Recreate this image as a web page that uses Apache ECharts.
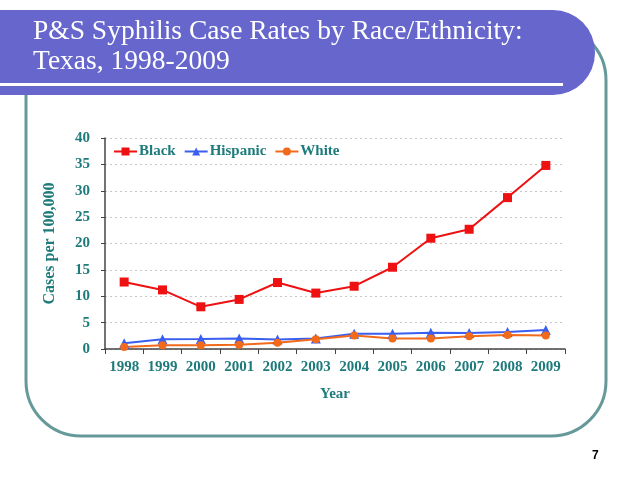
<!DOCTYPE html>
<html>
<head>
<meta charset="utf-8">
<script src="https://cdn.jsdelivr.net/npm/echarts@6/dist/echarts.min.js"></script>
<style>html,body{margin:0;padding:0;background:#fff}#c{width:638px;height:478px}</style>
</head>
<body>
<div id="c"></div>
<script>
var years = ['1998','1999','2000','2001','2002','2003','2004','2005','2006','2007','2008','2009'];
var black = [12.7, 11.2, 8.0, 9.4, 12.6, 10.6, 11.9, 15.5, 21.0, 22.7, 28.7, 34.8];
var hispanic = [1.1, 1.85, 1.9, 2.0, 1.8, 2.0, 2.9, 2.9, 3.1, 3.05, 3.2, 3.6];
var white = [0.4, 0.7, 0.7, 0.8, 1.2, 1.85, 2.55, 2.0, 2.0, 2.4, 2.65, 2.55];
var yTicks = [0, 5, 10, 15, 20, 25, 30, 35, 40];

var teal = '#1f7b7b';
var serif = '"Liberation Serif", "Times New Roman", serif';
var chart = echarts.init(document.getElementById('c'));
chart.setOption({
  animation: false,
  graphic: [
    { type: 'rect', z: 0, shape: { x: 26, y: 25, width: 580, height: 411, r: 55 },
      style: { fill: 'none', stroke: '#669999', lineWidth: 3 } },
    { type: 'rect', z: 1, shape: { x: 0, y: 10, width: 595, height: 85, r: [0, 42, 42, 0] },
      style: { fill: '#6666cc' } },
    { type: 'line', z: 2, shape: { x1: 0, y1: 84.5, x2: 563, y2: 84.5 },
      style: { stroke: '#ffffff', lineWidth: 3 } },
    { type: 'text', z: 3, left: 33, top: 17,
      style: { text: 'P&S Syphilis Case Rates by Race/Ethnicity:\nTexas, 1998-2009', fill: '#ffffff',
        font: '27.5px ' + serif, lineHeight: 30 } },
    { type: 'text', z: 3, left: 592, top: 450,
      style: { text: '7', fill: '#000', font: 'bold 12px "Liberation Sans", Arial, sans-serif' } }
  ],
  legend: {
    left: 113, top: 144, padding: 0, itemWidth: 23, itemHeight: 10, itemGap: 8,
    textStyle: { color: teal, fontFamily: serif, fontWeight: 'bold', fontSize: 15, padding: [0, 0, 0, -3] },
    data: ['Black', 'Hispanic', 'White']
  },
  grid: { left: 105, right: 73, top: 138, bottom: 129, containLabel: false },
  xAxis: {
    type: 'category', data: years, boundaryGap: true,
    name: 'Year', nameLocation: 'middle', nameGap: 38,
    nameTextStyle: { color: teal, fontFamily: serif, fontWeight: 'bold', fontSize: 15 },
    axisLine: { lineStyle: { color: '#444', width: 1.5 } },
    axisTick: { show: true, length: 5, interval: 0, lineStyle: { color: '#444' } },
    axisLabel: { color: teal, fontFamily: serif, fontWeight: 'bold', fontSize: 15, margin: 11,
      interval: 0, hideOverlap: false }
  },
  yAxis: {
    type: 'value', min: 0, max: 40, interval: 5,
    name: 'Cases per 100,000', nameLocation: 'middle', nameGap: 47,
    nameTextStyle: { color: teal, fontFamily: serif, fontWeight: 'bold', fontSize: 16 },
    axisLine: { show: true, lineStyle: { color: '#444', width: 1.5 } },
    axisTick: { show: true, length: 4, lineStyle: { color: '#444' } },
    axisLabel: { color: teal, fontFamily: serif, fontWeight: 'bold', fontSize: 15, margin: 15,
      formatter: function (v) { return yTicks.indexOf(v) >= 0 ? String(v) : ''; } },
    splitLine: { show: true, lineStyle: { color: '#c8c8c8', type: [2, 3], width: 1 } }
  },
  series: [
    { name: 'Black', type: 'line', data: black, color: '#ee1111', symbol: 'rect', symbolSize: 9,
      lineStyle: { width: 2 }, itemStyle: { color: '#ee1111' } },
    { name: 'Hispanic', type: 'line', data: hispanic, color: '#3a5ef0', symbol: 'triangle', symbolSize: 10,
      lineStyle: { width: 2 }, itemStyle: { color: '#3a5ef0' } },
    { name: 'White', type: 'line', data: white, color: '#f26a1b', symbol: 'circle', symbolSize: 8,
      lineStyle: { width: 2 }, itemStyle: { color: '#f26a1b' } }
  ]
});
</script>
</body>
</html>
